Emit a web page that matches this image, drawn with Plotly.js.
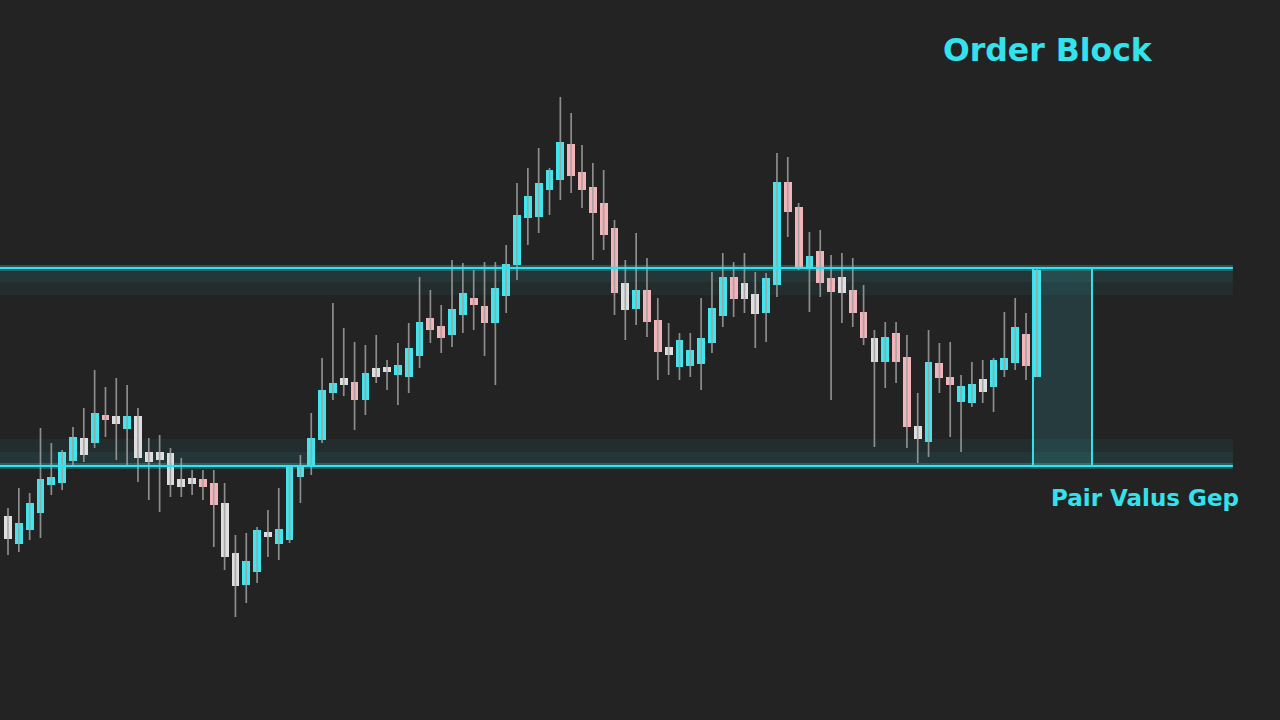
<!DOCTYPE html>
<html>
<head>
<meta charset="utf-8">
<script src="https://cdn.plot.ly/plotly-3.0.1.min.js"></script>
<style>
  html, body { margin: 0; padding: 0; background: #232323; }
  #chart { width: 1280px; height: 720px; }
</style>
</head>
<body>
<div id="chart"></div>
<script>
// ---- data (price units) ----
const openP  = [20.4,17.6,19.0,20.7,23.5,23.7,25.9,26.5,27.7,30.5,30.4,29.1,30.4,26.8,26.0,26.7,24.1,23.6,24.1,23.7,21.7,16.7,13.5,14.8,18.8,17.6,18.0,24.3,25.3,28.0,32.7,33.5,33.8,32.0,34.3,35.0,34.5,34.3,36.4,40.2,39.4,38.5,40.5,42.2,41.4,39.7,42.4,45.5,50.2,50.3,53.0,54.0,57.6,54.8,53.3,51.7,49.2,43.7,41.1,43.0,40.0,37.3,35.3,35.4,35.6,37.7,40.4,44.3,43.7,42.6,40.7,43.5,53.8,51.3,45.2,46.9,44.2,42.7,43.0,40.8,38.2,35.8,38.7,36.3,29.4,27.8,35.7,34.3,31.8,31.7,32.8,33.3,35.0,35.7,38.6,34.3];
const highP  = [21.2,23.2,22.7,29.2,27.7,27.0,29.3,31.2,35.0,33.3,34.2,33.5,31.2,28.2,28.5,27.2,26.2,25.0,25.0,25.0,23.7,18.5,18.7,19.3,21.0,23.2,25.5,26.5,30.7,36.2,41.7,39.2,37.8,37.5,38.5,36.0,37.7,39.7,44.3,43.0,41.5,46.0,45.7,45.0,45.8,45.8,47.5,53.7,55.2,57.2,55.2,62.3,60.7,57.5,55.7,55.0,50.0,46.0,48.7,46.2,42.2,39.7,38.7,38.7,42.2,44.8,46.7,45.8,46.7,44.8,44.7,56.7,56.3,51.7,48.8,49.0,46.5,46.7,46.2,43.5,39.0,39.8,39.8,38.5,32.7,39.0,37.7,37.8,34.5,35.8,36.0,36.2,40.8,42.2,40.7,45.2];
const lowP   = [16.5,16.8,18.0,18.2,22.5,23.0,25.5,25.8,27.2,28.3,26.0,25.5,23.8,22.0,20.8,22.3,22.3,22.5,22.0,17.3,15.0,10.3,11.7,13.7,16.3,16.0,17.7,21.7,24.5,27.7,32.0,32.4,29.0,30.5,33.7,33.0,31.5,32.7,35.2,37.7,36.7,37.3,38.7,39.0,36.4,33.5,40.7,44.0,47.5,48.7,50.5,52.0,52.7,51.2,46.0,47.0,40.5,38.0,39.5,38.3,34.0,34.5,34.0,34.3,33.0,36.7,39.3,40.3,40.7,37.2,37.8,42.3,48.3,45.0,40.8,42.3,32.0,39.7,39.3,37.5,27.3,33.2,33.7,27.2,25.7,26.3,32.7,28.3,26.8,31.3,31.7,30.8,34.3,35.0,34.0,34.3];
const closeP = [18.1,19.7,21.7,24.1,24.3,26.8,28.3,28.2,30.7,30.1,29.6,30.4,26.2,25.8,26.8,23.5,23.3,24.2,23.3,21.5,16.3,13.4,15.9,19.0,18.3,19.1,25.3,25.5,28.2,33.0,33.7,34.2,32.0,34.7,35.2,35.2,35.5,37.2,39.8,39.0,38.2,41.1,42.7,41.5,39.7,43.2,45.6,50.5,52.4,53.7,55.0,57.8,54.4,53.0,50.7,48.5,42.7,41.0,43.0,39.8,36.8,36.5,38.0,37.0,38.2,41.2,44.3,42.1,42.1,40.6,44.2,53.8,50.8,45.3,46.4,43.7,42.8,44.3,40.7,38.2,35.8,38.3,35.8,29.3,28.1,35.8,34.2,33.5,33.4,33.6,34.1,36.0,36.2,39.3,35.4,45.0];
// candle tone as drawn: u = cyan, d = pink, n = white
const tone = ['n','u','u','u','u','u','u','n','u','d','n','u','n','n','n','n','n','n','d','d','n','n','u','u','n','u','u','u','u','u','u','n','d','u','n','n','u','u','u','d','d','u','u','d','d','u','u','u','u','u','u','u','d','d','d','d','d','n','u','d','d','n','u','u','u','u','u','d','n','n','u','u','d','d','u','d','d','n','d','d','n','u','d','d','n','u','d','d','u','u','n','u','u','u','d','u'];
const zoneTop = 45.2;
const zoneBottom = 25.4;
const labels = { title: 'Order Block', gap: 'Pair Valus Gep' };

// ---- derived arrays for library ----
const idx = openP.map((_, i) => i);
const toneColor = { u: '#3fe6ee', d: '#f2b3b9', n: '#dedede' };
const bodyBase = [], bodyH = [], bodyCol = [];
const wx = [], wy = [];
idx.forEach(i => {
  const lo = Math.min(openP[i], closeP[i]);
  const hi = Math.max(openP[i], closeP[i]);
  const h = Math.max(hi - lo, 0.5);
  bodyBase.push((lo + hi) / 2 - h / 2);
  bodyH.push(h);
  bodyCol.push(toneColor[tone[i]]);
  wx.push(i, i, null);
  wy.push(lowP[i], highP[i], null);
});

const cyan = '#33e2ec';
const xL = -0.74, xR = 113.1;          // lines span
const boxL = 94.64, boxR = 100.09;     // fair value gap box

const traces = [
  { type: 'scatter', mode: 'lines', x: wx, y: wy, connectgaps: false,
    line: { color: 'rgba(160,160,160,0.85)', width: 1.7 }, hoverinfo: 'skip', showlegend: false },
  { type: 'bar', x: idx, y: bodyH, base: bodyBase, width: 0.72,
    marker: { color: bodyCol, line: { width: 0 } }, hoverinfo: 'skip', showlegend: false }
];

const shapes = [
  { type: 'rect', xref: 'x', yref: 'y', x0: xL, x1: xR, y0: zoneTop - 2.7, y1: zoneTop,
    fillcolor: 'rgba(51,226,236,0.06)', line: { width: 0 }, layer: 'below' },
  { type: 'rect', xref: 'x', yref: 'y', x0: xL, x1: xR, y0: zoneTop - 1.4, y1: zoneTop,
    fillcolor: 'rgba(51,226,236,0.05)', line: { width: 0 }, layer: 'below' },
  { type: 'rect', xref: 'x', yref: 'y', x0: xL, x1: xR, y0: zoneBottom, y1: zoneBottom + 2.7,
    fillcolor: 'rgba(51,226,236,0.06)', line: { width: 0 }, layer: 'below' },
  { type: 'rect', xref: 'x', yref: 'y', x0: xL, x1: xR, y0: zoneBottom, y1: zoneBottom + 1.4,
    fillcolor: 'rgba(51,226,236,0.05)', line: { width: 0 }, layer: 'below' },
  { type: 'rect', xref: 'x', yref: 'y', x0: boxL, x1: boxR, y0: zoneBottom, y1: zoneTop,
    fillcolor: 'rgba(51,226,236,0.13)', line: { color: cyan, width: 2 }, layer: 'below' },
  { type: 'line', xref: 'x', yref: 'y', x0: xL, x1: xR, y0: zoneTop, y1: zoneTop,
    line: { color: 'rgba(51,226,236,0.25)', width: 6 } },
  { type: 'line', xref: 'x', yref: 'y', x0: xL, x1: xR, y0: zoneBottom, y1: zoneBottom,
    line: { color: 'rgba(51,226,236,0.25)', width: 6 } },
  { type: 'line', xref: 'x', yref: 'y', x0: xL, x1: xR, y0: zoneTop, y1: zoneTop,
    line: { color: cyan, width: 2.2 } },
  { type: 'line', xref: 'x', yref: 'y', x0: xL, x1: xR, y0: zoneBottom, y1: zoneBottom,
    line: { color: cyan, width: 2.2 } }
];

const layout = {
  width: 1280, height: 720,
  margin: { l: 0, r: 0, t: 0, b: 0 },
  paper_bgcolor: '#232323', plot_bgcolor: '#232323',
  showlegend: false,
  bargap: 0,
  xaxis: { range: [-0.739, 117.45], visible: false, fixedrange: true },
  yaxis: { range: [0, 72], visible: false, fixedrange: true },
  shapes: shapes,
  annotations: [
    { text: '<b>' + labels.title + '</b>', xref: 'paper', yref: 'paper', x: 0.819, y: 0.931,
      xanchor: 'center', yanchor: 'middle', showarrow: false,
      font: { family: 'DejaVu Sans, Verdana, sans-serif', size: 31.5, color: cyan } },
    { text: '<b>' + labels.gap + '</b>', xref: 'paper', yref: 'paper', x: 0.8945, y: 0.308,
      xanchor: 'center', yanchor: 'middle', showarrow: false,
      font: { family: 'DejaVu Sans, Verdana, sans-serif', size: 23, color: cyan } }
  ]
};

Plotly.newPlot('chart', traces, layout, { staticPlot: true, displayModeBar: false });
</script>
</body>
</html>
